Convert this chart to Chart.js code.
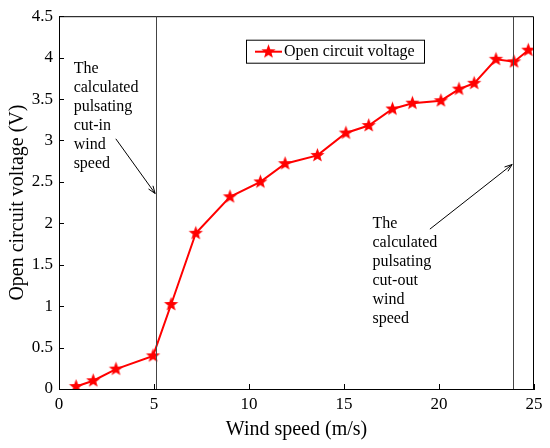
<!DOCTYPE html>
<html>
<head>
<meta charset="utf-8">
<script src="https://cdn.jsdelivr.net/npm/chart.js@4.4.1/dist/chart.umd.min.js"></script>
<style>
  html, body { margin: 0; padding: 0; background: #fff; }
  #wrap { width: 550px; height: 448px; }
</style>
</head>
<body>
<div id="wrap"><canvas id="myChart" width="550" height="448"></canvas></div>
<script>
// datos
const windSpeed = [0.9, 1.8, 3.0, 4.95, 5.9, 7.2, 9.0, 10.6, 11.9, 13.6, 15.1, 16.3, 17.55, 18.6, 20.1, 21.05, 21.85, 23.0, 23.95, 24.7];
const voltage = [0.03, 0.10, 0.24, 0.40, 1.02, 1.88, 2.32, 2.50, 2.72, 2.82, 3.09, 3.18, 3.38, 3.45, 3.48, 3.62, 3.69, 3.98, 3.95, 4.09];
const xTicks = [0, 5, 10, 15, 20, 25];
const yTicks = [0, 0.5, 1, 1.5, 2, 2.5, 3, 3.5, 4, 4.5];
const cutIn = 5.1;
const cutOut = 23.9;
const seriesLabel = 'Open circuit voltage';
const cutInText = ['The', 'calculated', 'pulsating', 'cut-in', 'wind', 'speed'];
const cutOutText = ['The', 'calculated', 'pulsating', 'cut-out', 'wind', 'speed'];

const serif = '"Liberation Serif", "Times New Roman", serif';

// estrella rellena de 5 puntas como marcador
const makeStar = (r) => {
  const c = document.createElement('canvas');
  const s = Math.ceil(r * 2 + 2);
  c.width = s; c.height = s;
  const g = c.getContext('2d');
  g.beginPath();
  for (let i = 0; i < 10; i++) {
    const rad = i % 2 === 0 ? r : r * 0.42;
    const a = -Math.PI / 2 + i * Math.PI / 5;
    const px = s / 2 + rad * Math.cos(a);
    const py = s / 2 + rad * Math.sin(a);
    if (i === 0) g.moveTo(px, py); else g.lineTo(px, py);
  }
  g.closePath();
  g.fillStyle = '#ff0000';
  g.fill();
  return c;
};
const starImg = makeStar(7.5);

const arrow = (ctx, x1, y1, x2, y2) => {
  ctx.beginPath();
  ctx.moveTo(x1, y1);
  ctx.lineTo(x2, y2);
  ctx.stroke();
  const a = Math.atan2(y2 - y1, x2 - x1);
  const L = 8, w = 0.35;
  ctx.beginPath();
  ctx.moveTo(x2, y2);
  ctx.lineTo(x2 - L * Math.cos(a - w), y2 - L * Math.sin(a - w));
  ctx.moveTo(x2, y2);
  ctx.lineTo(x2 - L * Math.cos(a + w), y2 - L * Math.sin(a + w));
  ctx.stroke();
};

const extras = {
  id: 'extras',
  afterDraw(chart) {
    const { ctx, chartArea: ca, scales } = chart;
    const xs = scales.x, ys = scales.y;
    ctx.save();

    // marco superior y derecho
    ctx.strokeStyle = '#000';
    ctx.lineWidth = 1;
    ctx.beginPath();
    ctx.moveTo(ca.left, ca.top + 0.5);
    ctx.lineTo(ca.right - 0.5, ca.top + 0.5);
    ctx.lineTo(ca.right - 0.5, ca.bottom);
    ctx.stroke();

    // marcas hacia dentro
    ctx.beginPath();
    xTicks.forEach(v => {
      const px = Math.round(xs.getPixelForValue(v)) + 0.5;
      ctx.moveTo(px, ca.bottom);
      ctx.lineTo(px, ca.bottom - 5);
    });
    yTicks.forEach(v => {
      const py = Math.round(ys.getPixelForValue(v)) + 0.5;
      ctx.moveTo(ca.left, py);
      ctx.lineTo(ca.left + 5, py);
    });
    ctx.stroke();

    // lineas verticales de corte
    ctx.strokeStyle = '#444';
    ctx.beginPath();
    [cutIn, cutOut].forEach(v => {
      const px = Math.round(xs.getPixelForValue(v)) + 0.5;
      ctx.moveTo(px, ca.top);
      ctx.lineTo(px, ca.bottom);
    });
    ctx.stroke();

    // textos de anotacion
    ctx.fillStyle = '#000';
    ctx.font = '16px ' + serif;
    ctx.textBaseline = 'middle';
    ctx.textAlign = 'left';
    const tx1 = xs.getPixelForValue(0.77), ty1 = ys.getPixelForValue(3.87);
    cutInText.forEach((t, i) => ctx.fillText(t, tx1, ty1 + i * 19));
    const tx2 = xs.getPixelForValue(16.5), ty2 = ys.getPixelForValue(2.0);
    cutOutText.forEach((t, i) => ctx.fillText(t, tx2, ty2 + i * 19));

    ctx.strokeStyle = '#000';
    arrow(ctx, xs.getPixelForValue(2.99), ys.getPixelForValue(3.02), xs.getPixelForValue(5.06), ys.getPixelForValue(2.36));
    arrow(ctx, xs.getPixelForValue(19.52), ys.getPixelForValue(1.93), xs.getPixelForValue(23.85), ys.getPixelForValue(2.71));

    // leyenda
    const lx = ca.left + 187, ly = ca.top + 23.5;
    const lw = 178, lh = 23;
    ctx.fillStyle = '#fff';
    ctx.fillRect(lx, ly, lw, lh);
    ctx.strokeRect(lx + 0.5, ly + 0.5, lw, lh);
    ctx.strokeStyle = '#ff0000';
    ctx.lineWidth = 2;
    ctx.beginPath();
    ctx.moveTo(lx + 9, ly + lh / 2 + 0.5);
    ctx.lineTo(lx + 36, ly + lh / 2 + 0.5);
    ctx.stroke();
    ctx.drawImage(starImg, lx + 22.5 - starImg.width / 2, ly + lh / 2 + 0.5 - starImg.height / 2);
    ctx.fillStyle = '#000';
    ctx.fillText(seriesLabel, lx + 38, ly + lh / 2 + 1);

    ctx.restore();
  }
};

const ctx = document.getElementById('myChart').getContext('2d');
new Chart(ctx, {
  type: 'line',
  data: {
    datasets: [{
      label: seriesLabel,
      data: windSpeed.map((x, i) => ({ x: x, y: voltage[i] })),
      borderColor: '#ff0000',
      backgroundColor: '#ff0000',
      borderWidth: 2,
      pointStyle: starImg,
      pointRadius: 7,
      tension: 0
    }]
  },
  options: {
    responsive: false,
    animation: false,
    devicePixelRatio: 1,
    layout: { padding: { top: 14, right: 16, left: 0, bottom: 0 } },
    plugins: {
      legend: { display: false },
      tooltip: { enabled: false }
    },
    scales: {
      x: {
        type: 'linear',
        min: 0,
        max: 25,
        afterBuildTicks: (s) => { s.ticks = xTicks.map(v => ({ value: v })); },
        afterFit: (s) => { s.height = 59; },
        grid: { display: false, drawTicks: false },
        border: { display: true, color: '#000', width: 1 },
        ticks: { color: '#000', padding: 5, font: { family: serif, size: 17 }, callback: (v) => String(v) },
        title: {
          display: true,
          text: 'Wind speed (m/s)',
          color: '#000',
          font: { family: serif, size: 20 },
          padding: { top: 0, bottom: 6 }
        }
      },
      y: {
        min: 0,
        max: 4.5,
        afterBuildTicks: (s) => { s.ticks = yTicks.map(v => ({ value: v })); },
        afterFit: (s) => { s.width = 59; },
        grid: { display: false, drawTicks: false },
        border: { display: true, color: '#000', width: 1 },
        ticks: { color: '#000', padding: 6, font: { family: serif, size: 17 }, callback: (v) => String(v) },
        title: {
          display: true,
          text: 'Open circuit voltage (V)',
          color: '#000',
          font: { family: serif, size: 20 },
          padding: { top: 6, bottom: 0 }
        }
      }
    }
  },
  plugins: [extras]
});
</script>
</body>
</html>
